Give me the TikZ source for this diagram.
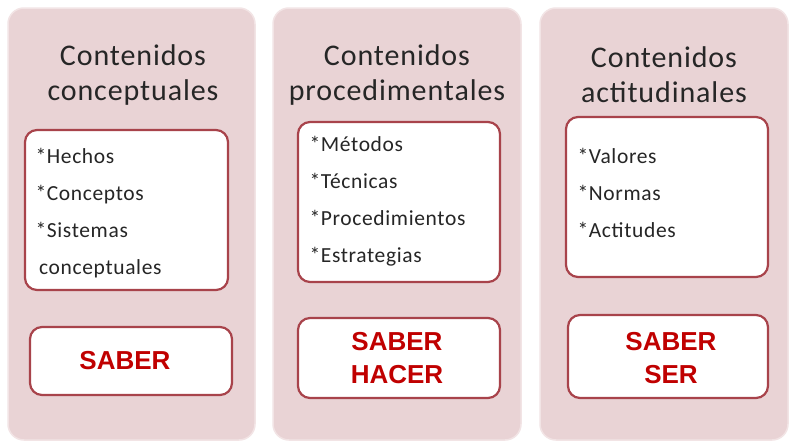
\documentclass[tikz,border=0pt]{standalone}
\usepackage{fontspec}
\setmainfont{Carlito}[LetterSpace=3]
\newfontfamily\arialb{Liberation Sans}
\definecolor{panelfill}{HTML}{E9D3D5}
\definecolor{panelline}{HTML}{F2E4E5}
\definecolor{boxline}{HTML}{A8434B}
\definecolor{sabred}{HTML}{C00000}
\begin{document}
\begin{tikzpicture}[x=1pt,y=-1pt,
  panel/.style={draw=panelline,line width=1.5pt,fill=panelfill,rounded corners=16pt},
  inbox/.style={draw=boxline,line width=2.2pt,fill=white,rounded corners=12pt},
  title/.style={font=\fontsize{30}{35}\selectfont,align=center,text=black!85},
  items/.style={font=\fontsize{21.5}{37}\selectfont,align=left,anchor=north west,text=black!85},
  sab/.style={font=\arialb\bfseries\fontsize{26}{33}\selectfont,text=sabred,align=center}]
\useasboundingbox (0,0) rectangle (796,447);
\fill[white] (0,0) rectangle (796,447);
% panels
\draw[panel] (8,8) rectangle (255,440);
\draw[panel] (273,8) rectangle (521,440);
\draw[panel] (540,8) rectangle (788,440);
% titles
\node[title] (t1) at (133,75) {Contenidos\\conceptuales};
\node[title] (t2) at (397,75) {Contenidos\\procedimentales};
\node[title] (t3) at (664,75) {Contenidos\\actitudinales};
% inner boxes
\draw[inbox] (25,130) rectangle (228,290);
\node[items] (l1) at (32,145) {*Hechos\\*Conceptos\\*Sistemas\\\,conceptuales};
\draw[inbox] (298,122) rectangle (500,282);
\node[items] (l2) at (306,133) {*Métodos\\*Técnicas\\*Procedimientos\\*Estrategias};
\draw[inbox] (566,117) rectangle (768,277);
\node[items] (l3) at (574,145) {*Valores\\*Normas\\*Actitudes};
% bottom boxes
\draw[inbox] (30,327) rectangle (232,395);
\node[sab] (s1) at (125,361) {SABER};
\draw[inbox] (298,318) rectangle (500,398);
\node[sab] (s2) at (397,358) {SABER\\HACER};
\draw[inbox] (568,315) rectangle (768,398);
\node[sab] (s3) at (671,358) {SABER\\SER};
\end{tikzpicture}
\end{document}
